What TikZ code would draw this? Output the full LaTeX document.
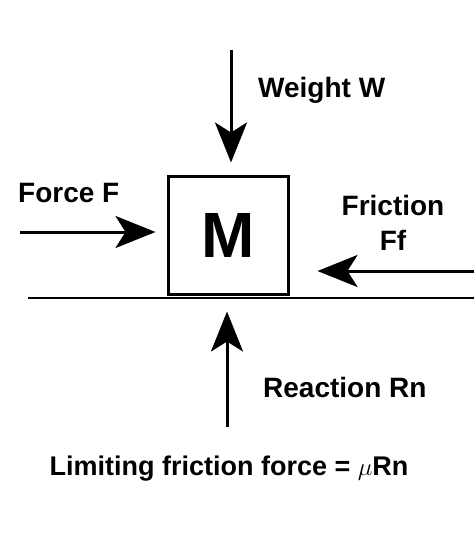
\documentclass[tikz,border=0pt]{standalone}
\usepackage{fontspec}
\setmainfont{Liberation Sans}
\usetikzlibrary{arrows.meta,calc}
\begin{document}
\begin{tikzpicture}[x=1pt,y=-1pt,
  lbl/.style={font=\fontsize{28}{30}\selectfont\bfseries, inner sep=0pt},
  force/.style={line width=3pt, -{Stealth[length=40pt,width=32pt,inset=10pt]}},
  massbox/.style={draw, line width=3pt, minimum width=120pt, minimum height=118pt, inner sep=0pt,
    font=\fontsize{64}{66}\selectfont\bfseries}]
\useasboundingbox (0,0) rectangle (474,538);
\node[massbox] (box) at (228,235) {M};
\coordinate (g1) at (28,298);
\coordinate (g2) at (474,298);
\draw[line width=1.7pt] (g1) -- (g2);
% weight
\coordinate (wtop) at (231,50);
\draw[force, shorten >=12pt] (wtop) -- (wtop |- box.north);
\node[lbl, anchor=base west] (wlbl) at (258,97) {Weight W};
% force F
\coordinate (fstart) at (20,232);
\draw[force, shorten >=11pt] (fstart) -- (fstart -| box.west);
\node[lbl, anchor=base west] (flbl) at (18,202) {Force F};
% friction
\coordinate (frstart) at (474,271);
\draw[force] (frstart) -- ($(frstart -| box.east)+(28,0)$);
\node[lbl, anchor=base] (frlbl) at (393,215) {Friction};
\node[lbl, anchor=base] (frlbl2) at (393,250) {Ff};
% reaction
\coordinate (rbot) at (227,427);
\draw[force, shorten >=16pt] (rbot) -- (rbot |- box.south);
\node[lbl, anchor=base west] (rlbl) at (263,397) {Reaction Rn};
% limiting
\node[lbl, anchor=base, font=\fontsize{27}{29}\selectfont\bfseries] (lim) at (229,475) {Limiting friction force = $\mu$Rn};
\end{tikzpicture}
\end{document}
